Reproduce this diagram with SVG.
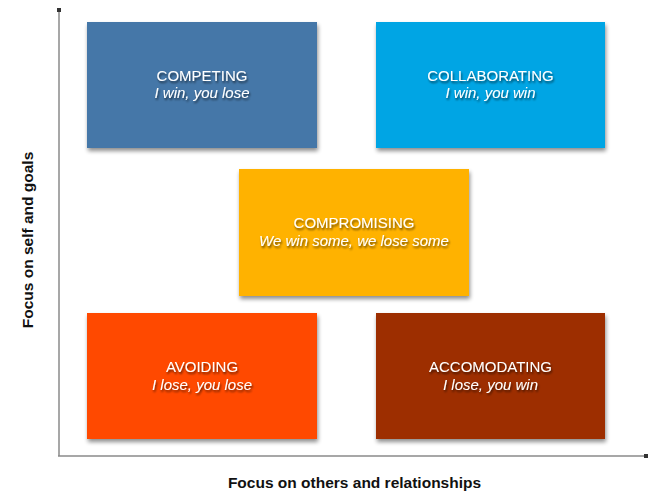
<svg xmlns="http://www.w3.org/2000/svg" width="671" height="504" viewBox="0 0 671 504">
<defs>
<filter id="boxShadow" x="-10%" y="-10%" width="125%" height="130%">
<feGaussianBlur in="SourceAlpha" stdDeviation="2"/>
<feOffset dx="1" dy="3" result="b"/>
<feComponentTransfer><feFuncA type="linear" slope="0.45"/></feComponentTransfer>
<feMerge><feMergeNode/><feMergeNode in="SourceGraphic"/></feMerge>
</filter>
<filter id="textShadow" x="-10%" y="-30%" width="120%" height="170%">
<feGaussianBlur in="SourceAlpha" stdDeviation="1.2"/>
<feOffset dx="1" dy="2" result="b"/>
<feComponentTransfer><feFuncA type="linear" slope="0.6"/></feComponentTransfer>
<feMerge><feMergeNode/><feMergeNode in="SourceGraphic"/></feMerge>
</filter>
<marker id="dot" viewBox="0 0 4 4" refX="2" refY="2" markerWidth="4" markerHeight="4" markerUnits="userSpaceOnUse">
<rect x="0" y="0" width="4" height="4" fill="#333"/>
</marker>
</defs>
<style>
.box{filter:url(#boxShadow);}
.t{font-family:"Liberation Sans",Arial,sans-serif;font-size:15px;fill:#ffffff;text-anchor:middle;filter:url(#textShadow);}
.i{font-style:italic;}
.axis{stroke:#8a8a8a;stroke-width:1.5;fill:none;}
.lbl{font-family:"Liberation Sans",Arial,sans-serif;font-size:15.5px;font-weight:bold;fill:#111;text-anchor:middle;}
</style>
<rect width="671" height="504" fill="#ffffff"/>
<g id="axes">
<line class="axis" x1="59" y1="456" x2="59" y2="10" marker-end="url(#dot)"/>
<line class="axis" x1="58" y1="456" x2="646" y2="456" marker-end="url(#dot)"/>
</g>
<g id="competing">
<rect class="box" x="87" y="22" width="230" height="126" fill="#4577A8"/>
<text class="t" x="202" y="81">COMPETING</text>
<text class="t i" x="202" y="98">I win, you lose</text>
</g>
<g id="collaborating">
<rect class="box" x="376" y="22" width="229" height="126" fill="#00A5E4"/>
<text class="t" x="490.5" y="81">COLLABORATING</text>
<text class="t i" x="490.5" y="98">I win, you win</text>
</g>
<g id="compromising">
<rect class="box" x="239" y="169" width="230" height="127" fill="#FFB200"/>
<text class="t" x="354" y="228">COMPROMISING</text>
<text class="t i" x="354" y="246">We win some, we lose some</text>
</g>
<g id="avoiding">
<rect class="box" x="87" y="313" width="230" height="126" fill="#FF4900"/>
<text class="t" x="202" y="372">AVOIDING</text>
<text class="t i" x="202" y="390">I lose, you lose</text>
</g>
<g id="accomodating">
<rect class="box" x="376" y="313" width="229" height="126" fill="#9D2D00"/>
<text class="t" x="490.5" y="372">ACCOMODATING</text>
<text class="t i" x="490.5" y="390">I lose, you win</text>
</g>
<g id="labels">
<text class="lbl" x="354.5" y="488">Focus on others and relationships</text>
<text class="lbl" transform="translate(33,240) rotate(-90)">Focus on self and goals</text>
</g>
</svg>
